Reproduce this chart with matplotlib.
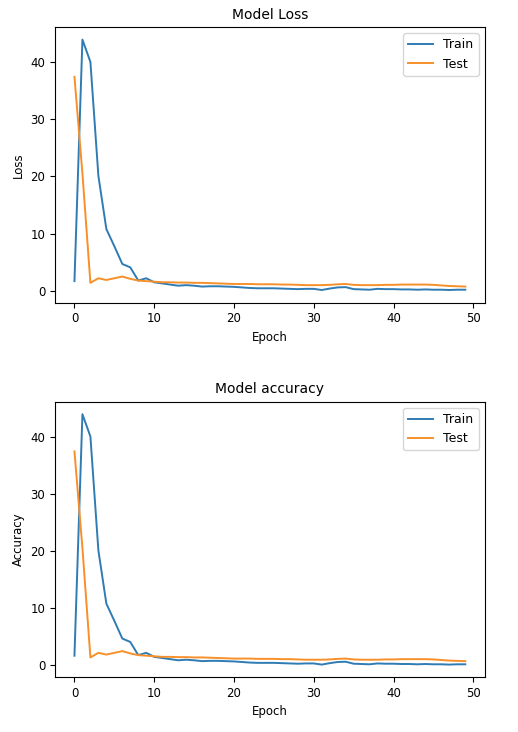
import matplotlib
matplotlib.use("Agg")
import matplotlib.pyplot as plt

epochs = list(range(50))

train = [1.7, 43.9, 40.0, 20.1, 10.8, 7.8, 4.7, 4.1, 1.8, 2.2,
         1.5, 1.3, 1.1, 0.9, 1.0, 0.9, 0.75, 0.8, 0.8, 0.75,
         0.7, 0.6, 0.5, 0.45, 0.45, 0.45, 0.4, 0.35, 0.3, 0.35,
         0.35, 0.15, 0.4, 0.6, 0.65, 0.3, 0.25, 0.2, 0.35, 0.3,
         0.3, 0.25, 0.25, 0.2, 0.25, 0.2, 0.2, 0.15, 0.2, 0.2]

test = [37.4, 20.5, 1.4, 2.2, 1.9, 2.2, 2.5, 2.1, 1.8, 1.7,
        1.6, 1.5, 1.5, 1.45, 1.45, 1.4, 1.4, 1.35, 1.3, 1.25,
        1.2, 1.2, 1.2, 1.15, 1.15, 1.15, 1.1, 1.1, 1.05, 1.0,
        1.0, 1.0, 1.05, 1.15, 1.2, 1.05, 1.0, 1.0, 1.0, 1.05,
        1.05, 1.1, 1.1, 1.1, 1.1, 1.05, 0.95, 0.85, 0.8, 0.75]

titles = ["Model Loss", "Model accuracy"]
ylabels = ["Loss", "Accuracy"]

plt.rcParams["font.size"] = 8.5

fig, axes = plt.subplots(2, 1, figsize=(5.18, 7.32), dpi=100)
fig.subplots_adjust(left=0.106, right=0.936, top=0.963, bottom=0.075, hspace=0.36)

for ax, title, ylabel in zip(axes, titles, ylabels):
    ax.plot(epochs, train, label="Train", lw=1.4, color="#2f7bb3")
    ax.plot(epochs, test, label="Test", lw=1.4, color="#f7902a")
    ax.set_title(title, fontsize=10)
    ax.set_ylabel(ylabel)
    ax.set_xlabel("Epoch")
    ax.legend(loc="upper right", fontsize=9)

fig.savefig("out.png", dpi=100)
